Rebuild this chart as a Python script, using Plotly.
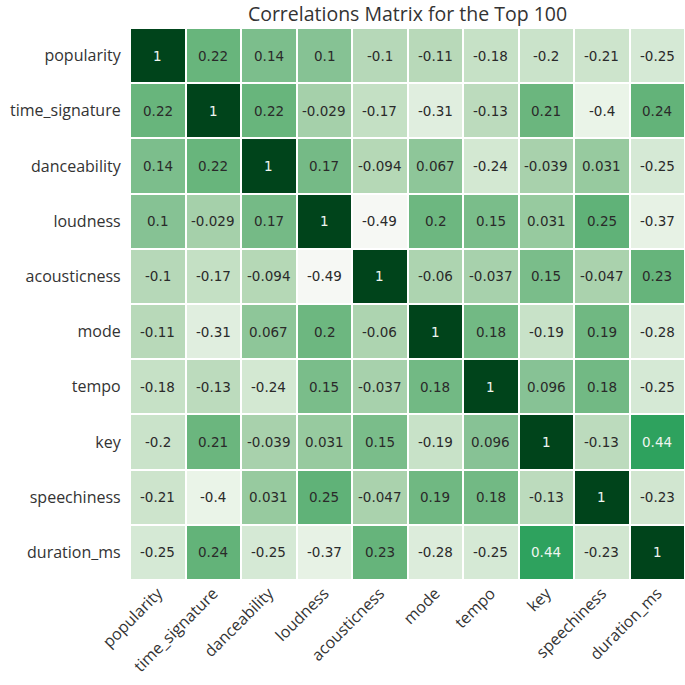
import plotly.graph_objects as go

labels = ["popularity", "time_signature", "danceability", "loudness", "acousticness",
          "mode", "tempo", "key", "speechiness", "duration_ms"]

popularity     = [1, 0.22, 0.14, 0.1, -0.1, -0.11, -0.18, -0.2, -0.21, -0.25]
time_signature = [0.22, 1, 0.22, -0.029, -0.17, -0.31, -0.13, 0.21, -0.4, 0.24]
danceability   = [0.14, 0.22, 1, 0.17, -0.094, 0.067, -0.24, -0.039, 0.031, -0.25]
loudness       = [0.1, -0.029, 0.17, 1, -0.49, 0.2, 0.15, 0.031, 0.25, -0.37]
acousticness   = [-0.1, -0.17, -0.094, -0.49, 1, -0.06, -0.037, 0.15, -0.047, 0.23]
mode           = [-0.11, -0.31, 0.067, 0.2, -0.06, 1, 0.18, -0.19, 0.19, -0.28]
tempo          = [-0.18, -0.13, -0.24, 0.15, -0.037, 0.18, 1, 0.096, 0.18, -0.25]
key            = [-0.2, 0.21, -0.039, 0.031, 0.15, -0.19, 0.096, 1, -0.13, 0.44]
speechiness    = [-0.21, -0.4, 0.031, 0.25, -0.047, 0.19, 0.18, -0.13, 1, -0.23]
duration_ms    = [-0.25, 0.24, -0.25, -0.37, 0.23, -0.28, -0.25, 0.44, -0.23, 1]

z = [popularity, time_signature, danceability, loudness, acousticness,
     mode, tempo, key, speechiness, duration_ms]

greens = [
    [0.0, "#f6f8f4"], [0.06, "#eaf4e8"], [0.134, "#deeddd"], [0.208, "#c6e1c6"],
    [0.275, "#b2d6b4"], [0.323, "#a0cea6"], [0.396, "#86c294"], [0.477, "#68b57c"],
    [0.624, "#2ea25e"], [0.8, "#107a3a"], [1.0, "#00441b"],
]
zmin, zmax = -0.49, 1.0

fig = go.Figure(go.Heatmap(
    z=z, x=labels, y=labels, colorscale=greens, zmin=zmin, zmax=zmax,
    showscale=False, xgap=2, ygap=2, hoverinfo="skip",
))

annotations = []
for i, row in enumerate(z):
    for j, v in enumerate(row):
        t = (v - zmin) / (zmax - zmin)
        color = "#f0f5f0" if t > 0.6 else "#2a2a2a"
        annotations.append(dict(
            x=labels[j], y=labels[i], text=f"{v:g}", showarrow=False,
            font=dict(family="DejaVu Sans", size=13.5, color=color),
        ))

fig.update_layout(
    width=685, height=685,
    margin=dict(l=130, r=0, t=28, b=105),
    plot_bgcolor="white", paper_bgcolor="white",
    title=dict(text="Correlations Matrix for the Top 100", x=0.5, xref="paper",
               xanchor="center", y=0.98, yanchor="middle",
               font=dict(family="Open Sans", size=19.5, color="#333333")),
    annotations=annotations,
    xaxis=dict(tickangle=-45, showgrid=False, zeroline=False, ticks="",
               tickfont=dict(family="Open Sans", size=16, color="#333333")),
    yaxis=dict(autorange="reversed", showgrid=False, zeroline=False, ticks="",
               ticksuffix="  ",
               tickfont=dict(family="Open Sans", size=16, color="#333333")),
)

fig.write_html("out.html")
